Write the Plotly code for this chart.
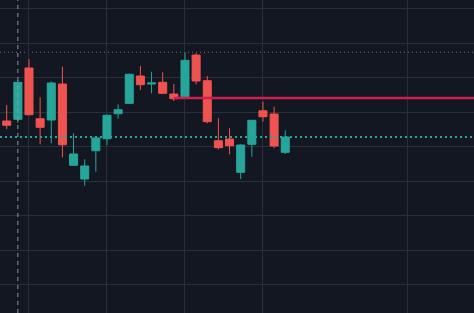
import plotly.graph_objects as go

# Candle index (time slot)
idx = list(range(26))
opens  = [108.74, 108.99, 116.42, 109.07, 108.88, 114.10, 102.32, 100.33, 104.43, 106.17,
          109.80, 111.30, 115.26, 114.10, 114.35, 112.65, 112.26, 118.30, 114.58, 105.88,
          106.13, 101.30, 105.36, 110.23, 109.75, 104.20]
highs  = [111.06, 114.68, 117.72, 112.17, 114.49, 116.61, 106.96, 103.19, 106.35, 109.68,
          111.16, 115.62, 116.71, 115.88, 115.80, 114.10, 118.74, 118.59, 115.26, 109.13,
          107.68, 105.33, 108.88, 111.54, 110.81, 107.39]
lows   = [107.58, 108.49, 109.54, 105.36, 105.51, 103.48, 102.29, 99.36, 101.39, 105.22,
          109.07, 111.20, 113.23, 112.75, 112.65, 111.64, 112.22, 114.06, 108.41, 104.64,
          103.91, 100.33, 103.57, 108.64, 104.78, 103.96]
closes = [108.12, 114.35, 109.65, 107.83, 114.25, 105.30, 103.96, 102.22, 106.28, 109.57,
          110.38, 115.51, 114.00, 114.25, 112.75, 111.97, 117.54, 114.54, 108.64, 104.87,
          105.16, 105.26, 108.84, 109.36, 105.12, 106.42]

price_grid = [85, 90, 95, 100, 105, 110, 115, 120, 125]
time_grid = [2, 9, 16, 23, 36]

crosshair_x = 1
dotted_level = 118.70
red_level = 112.07
red_level_start = 15
last_close_level = 106.42

x_range = [-0.602, 41.94]
y_range = [80.91, 126.28]

BG = "#131722"
GRID = "#2a2e39"
UP = "#26a69a"
DOWN = "#ef5350"

fig = go.Figure()
fig.add_trace(go.Candlestick(
    x=idx, open=opens, high=highs, low=lows, close=closes,
    increasing=dict(line=dict(color=UP, width=1), fillcolor=UP),
    decreasing=dict(line=dict(color=DOWN, width=1), fillcolor=DOWN),
    whiskerwidth=0, hoverinfo="skip", showlegend=False,
))

# gray dotted level
fig.add_shape(type="line", xref="paper", x0=0, x1=1, y0=dotted_level, y1=dotted_level,
              line=dict(color="#6f737e", width=1, dash="1px,3px"), layer="below")
# teal dotted last price
fig.add_shape(type="line", xref="paper", x0=0, x1=1, y0=last_close_level, y1=last_close_level,
              line=dict(color=UP, width=2, dash="2px,3px"))
# red horizontal ray
fig.add_shape(type="line", x0=red_level_start, x1=x_range[1], y0=red_level, y1=red_level,
              line=dict(color="#cf1f4f", width=2.5))
# crosshair
fig.add_shape(type="line", yref="paper", x0=crosshair_x, x1=crosshair_x, y0=0, y1=1,
              line=dict(color="#9598a1", width=1, dash="4px,4px"))

fig.update_layout(
    width=474, height=313,
    margin=dict(l=0, r=0, t=0, b=0),
    paper_bgcolor=BG, plot_bgcolor=BG,
    showlegend=False,
    boxgap=0.28, boxgroupgap=0,
    xaxis=dict(range=x_range, tickvals=time_grid, showticklabels=False, showgrid=True,
               gridcolor=GRID, gridwidth=1, zeroline=False, showline=False,
               rangeslider=dict(visible=False), fixedrange=True),
    yaxis=dict(range=y_range, tickvals=price_grid, showticklabels=False, showgrid=True,
               gridcolor=GRID, gridwidth=1, zeroline=False, showline=False, fixedrange=True),
)

fig.write_html("out.html", config={"displayModeBar": False})
